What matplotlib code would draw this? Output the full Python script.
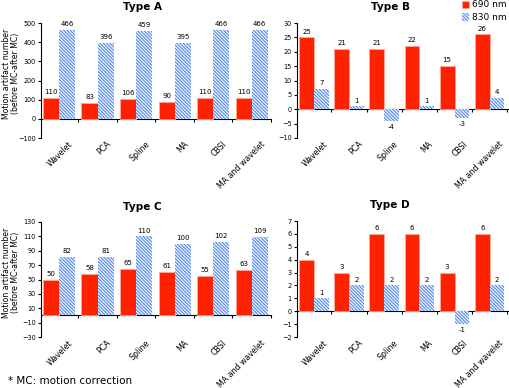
import matplotlib

matplotlib.use("Agg")
import matplotlib.pyplot as plt
from matplotlib.patches import Patch
from matplotlib.transforms import ScaledTranslation

methods = ["Wavelet", "PCA", "Spline", "MA", "CBSI", "MA and wavelet"]

type_a_690 = [110, 83, 106, 90, 110, 110]
type_a_830 = [466, 396, 459, 395, 466, 466]
type_b_690 = [25, 21, 21, 22, 15, 26]
type_b_830 = [7, 1, -4, 1, -3, 4]
type_c_690 = [50, 58, 65, 61, 55, 63]
type_c_830 = [82, 81, 110, 100, 102, 109]
type_d_690 = [4, 3, 6, 6, 3, 6]
type_d_830 = [1, 2, 2, 2, -1, 2]

RED = "#ff2200"
BLUE = "#5a8ef0"
HATCH = "\\" * 10

W, H = 510, 388
fig = plt.figure(figsize=(W / 100, H / 100), dpi=100)
plt.rcParams["hatch.linewidth"] = 0.9


def px_axes(left, top, right, bottom):
    return fig.add_axes([left / W, 1 - bottom / H, (right - left) / W, (bottom - top) / H])


panels = [
    ("Type A", type_a_690, type_a_830, (41, 23, 271, 138), (-100, 500), 100, (-0.47, 5.5), True),
    ("Type B", type_b_690, type_b_830, (297, 23, 509, 138), (-10, 30), 5, (-0.48, 5.55), False),
    ("Type C", type_c_690, type_c_830, (41, 222, 271, 337), (-30, 130), 20, (-0.47, 5.5), True),
    ("Type D", type_d_690, type_d_830, (297, 221, 509, 337), (-2, 7), 1, (-0.48, 5.55), False),
]

x = list(range(len(methods)))
bw = 0.42
for title, v690, v830, box, ylim, step, xlim, ylab in panels:
    ax = px_axes(*box)
    b1 = ax.bar([i - bw / 2 for i in x], v690, bw, color=RED, edgecolor="#ffa898", linewidth=0.6)
    b2 = ax.bar([i + bw / 2 for i in x], v830, bw, facecolor="white", edgecolor=BLUE,
                hatch=HATCH, linewidth=0)
    ax.bar_label(b1, padding=2, fontsize=5)
    ax.bar_label(b2, padding=2, fontsize=5)
    ax.set_ylim(*ylim)
    ax.set_xlim(*xlim)
    ax.set_yticks(range(ylim[0], ylim[1] + 1, step))
    ax.tick_params(axis="y", labelsize=4.7, length=2.5, width=0.8, pad=1.5)
    for s in ["top", "right", "bottom"]:
        ax.spines[s].set_visible(False)
    ax.spines["left"].set_linewidth(0.8)
    ax.set_xticks(x)
    ax.set_xticklabels(methods, rotation=45, ha="right", rotation_mode="anchor", fontsize=5.7)
    ax.tick_params(axis="x", length=0, pad=1)
    for lab in ax.get_xticklabels():
        lab.set_transform(lab.get_transform() + ScaledTranslation(0.09, 0, fig.dpi_scale_trans))
    zero = (0 - ylim[0]) / (ylim[1] - ylim[0])
    sec = ax.secondary_xaxis(zero)
    sec.set_xticks([i + 0.5 for i in x])
    sec.set_xticklabels([])
    sec.tick_params(length=2.5, width=0.8, direction="out")
    sec.spines["bottom"].set_linewidth(0.8)
    ax.set_title(title, fontsize=7.5, fontweight="bold", pad=9, x=0.44)
    if ylab:
        ax.set_ylabel("Motion artifact number\n(before MC-after MC)", fontsize=5.6,
                      linespacing=1.1)
        ax.yaxis.set_label_coords(-0.09, 0.56)

handles = [Patch(facecolor=RED, edgecolor="#ffa898", linewidth=0.6, label="690 nm"),
           Patch(facecolor="white", edgecolor=BLUE, hatch=HATCH, linewidth=0, label="830 nm")]
fig.legend(handles=handles, loc="upper right", bbox_to_anchor=(1.01, 1.02), frameon=False,
           fontsize=6.5, handlelength=0.7, handleheight=0.9, handletextpad=0.4, labelspacing=0.4)

fig.text(8 / W, 1 - 381 / H, "* MC: motion correction", fontsize=7.5, va="center", ha="left")

fig.savefig("out.png", dpi=100)
